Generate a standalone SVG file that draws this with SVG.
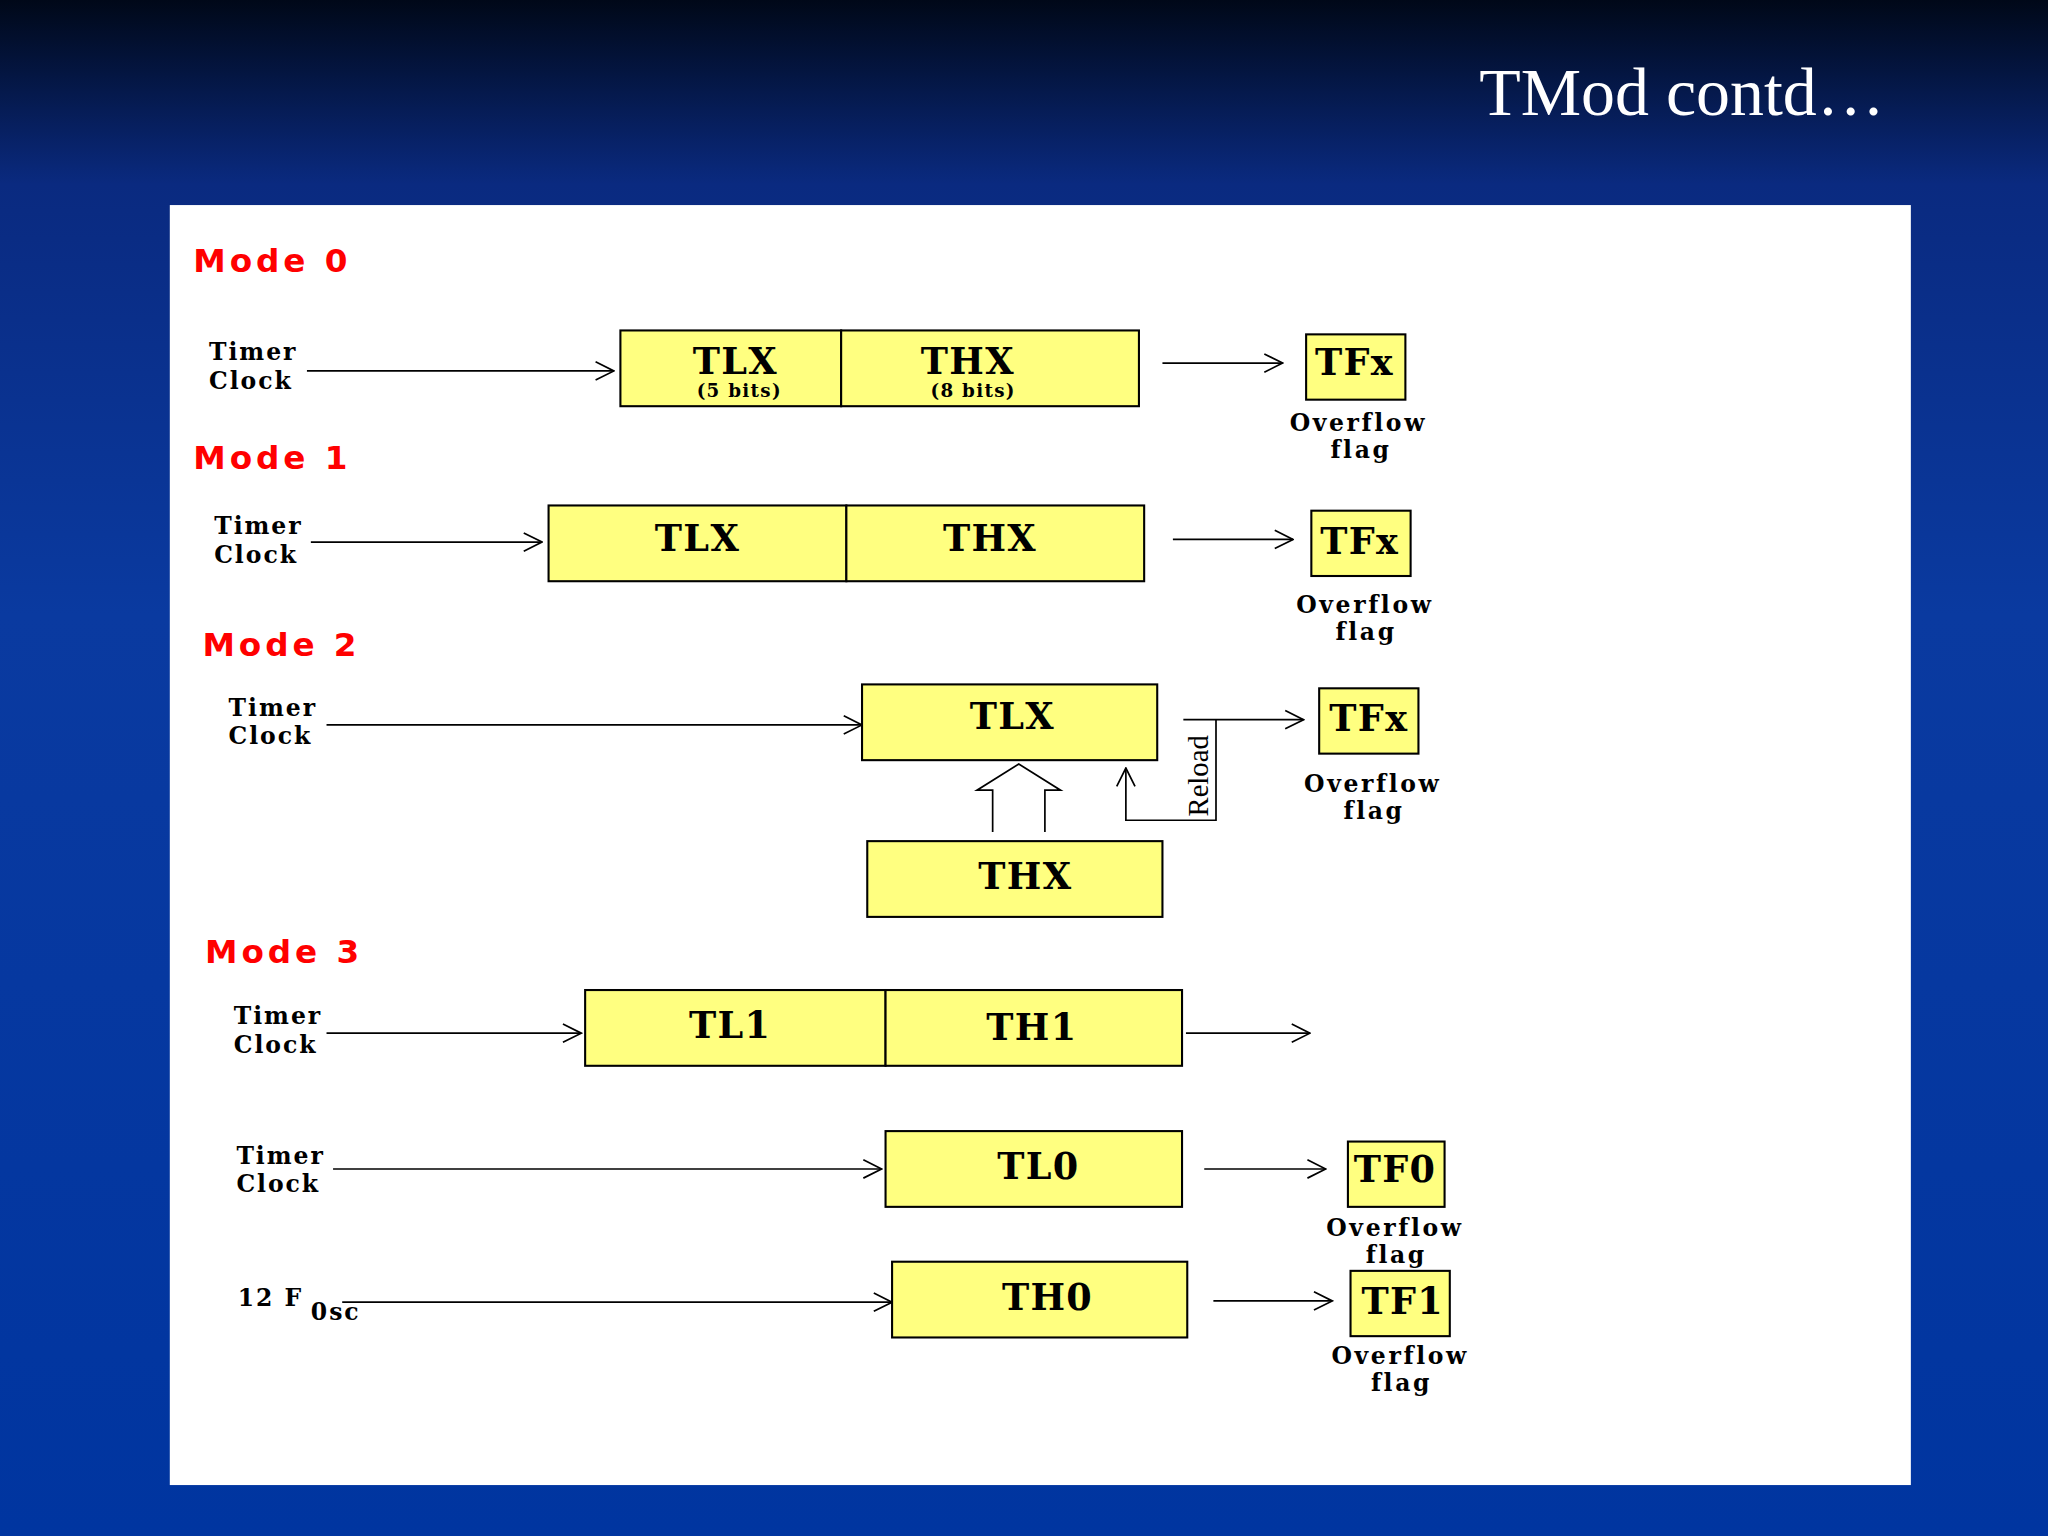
<svg xmlns="http://www.w3.org/2000/svg" width="2048" height="1536" viewBox="0 0 2048 1536">
<defs>
<linearGradient id="bg" x1="0" y1="0" x2="0" y2="1">
<stop offset="0" stop-color="#000818"/><stop offset="0.12" stop-color="#0a2a80"/><stop offset="0.4" stop-color="#0a3aa0"/><stop offset="1" stop-color="#0035a0"/>
</linearGradient>
<marker id="ah" viewBox="0 0 16 16" refX="15" refY="8" markerWidth="16" markerHeight="16" markerUnits="userSpaceOnUse" orient="auto">
<path d="M1,1 L15,8 L1,15" fill="none" stroke="#000" stroke-width="1.3"/>
</marker>
<style>
.box{fill:#ffff80;stroke:#000;stroke-width:1.6}
.bl{font-family:"DejaVu Serif","Liberation Serif",serif;font-weight:bold;fill:#000;text-anchor:middle;letter-spacing:1px}
.big{font-size:28px}
.sm{font-size:14px}
.lab{font-family:"DejaVu Serif","Liberation Serif",serif;font-weight:bold;font-size:18px;fill:#000;letter-spacing:1.5px}
.ov{font-family:"DejaVu Serif","Liberation Serif",serif;font-weight:bold;font-size:18px;fill:#000;text-anchor:middle;letter-spacing:2px}
.mode{font-family:"DejaVu Sans","Liberation Sans",sans-serif;font-weight:bold;font-size:25px;fill:#f00;letter-spacing:3px}
.ln{stroke:#000;stroke-width:1.3;fill:none}
</style>
</defs>
<rect width="2048" height="1536" fill="url(#bg)"/>
<g transform="scale(1.30612)">
<text x="1443" y="88" font-family="Liberation Serif,serif" font-size="52" fill="#fff" text-anchor="end">TMod contd…</text>
<rect x="130" y="157" width="1333" height="980" fill="#fff"/>

<text class="mode" x="148" y="208">Mode 0</text>
<text class="mode" x="148" y="359">Mode 1</text>
<text class="mode" x="155" y="502">Mode 2</text>
<text class="mode" x="157" y="737">Mode 3</text>

<g id="clk0"><text class="lab" x="160" y="276">Timer</text><text class="lab" x="160" y="298">Clock</text></g>
<g id="clk1"><text class="lab" x="164" y="409">Timer</text><text class="lab" x="164" y="431">Clock</text></g>
<g id="clk2"><text class="lab" x="175" y="548">Timer</text><text class="lab" x="175" y="570">Clock</text></g>
<g id="clk3a"><text class="lab" x="179" y="784">Timer</text><text class="lab" x="179" y="806">Clock</text></g>
<g id="clk3b"><text class="lab" x="181" y="891">Timer</text><text class="lab" x="181" y="913">Clock</text></g>
<g id="osc"><text class="lab" x="182" y="1000" font-size="20">12 F</text><text class="lab" x="238" y="1011" font-size="14">0sc</text></g>

<g id="m0-tlx"><rect class="box" x="475" y="253" width="169" height="58"/><text class="bl big" x="563" y="286">TLX</text><text class="bl sm" x="566" y="304">(5 bits)</text></g>
<g id="m0-thx"><rect class="box" x="644" y="253" width="228" height="58"/><text class="bl big" x="741" y="286">THX</text><text class="bl sm" x="745" y="304">(8 bits)</text></g>
<g id="m0-tf"><rect class="box" x="1000" y="256" width="76" height="50"/><text class="bl big" x="1037" y="287">TFx</text><text class="ov" x="1040" y="330">Overflow</text><text class="ov" x="1042" y="351">flag</text></g>

<g id="m1-tlx"><rect class="box" x="420" y="387" width="228" height="58"/><text class="bl big" x="534" y="422">TLX</text></g>
<g id="m1-thx"><rect class="box" x="648" y="387" width="228" height="58"/><text class="bl big" x="758" y="422">THX</text></g>
<g id="m1-tf"><rect class="box" x="1004" y="391" width="76" height="50"/><text class="bl big" x="1041" y="424">TFx</text><text class="ov" x="1045" y="469">Overflow</text><text class="ov" x="1046" y="490">flag</text></g>

<g id="m2-tlx"><rect class="box" x="660" y="524" width="226" height="58"/><text class="bl big" x="775" y="558">TLX</text></g>
<g id="m2-thx"><rect class="box" x="664" y="644" width="226" height="58"/><text class="bl big" x="785" y="681">THX</text></g>
<g id="m2-tf"><rect class="box" x="1010" y="527" width="76" height="50"/><text class="bl big" x="1048" y="560">TFx</text><text class="ov" x="1051" y="606">Overflow</text><text class="ov" x="1052" y="627">flag</text></g>

<g id="m3-tl1"><rect class="box" x="448" y="758" width="230" height="58"/><text class="bl big" x="559" y="795">TL1</text></g>
<g id="m3-th1"><rect class="box" x="678" y="758" width="227" height="58"/><text class="bl big" x="790" y="796">TH1</text></g>
<g id="m3-tl0"><rect class="box" x="678" y="866" width="227" height="58"/><text class="bl big" x="795" y="903">TL0</text></g>
<g id="m3-tf0"><rect class="box" x="1032" y="874" width="74" height="50"/><text class="bl big" x="1068" y="905">TF0</text><text class="ov" x="1068" y="946">Overflow</text><text class="ov" x="1069" y="967">flag</text></g>
<g id="m3-th0"><rect class="box" x="683" y="966" width="226" height="58"/><text class="bl big" x="802" y="1003">TH0</text></g>
<g id="m3-tf1"><rect class="box" x="1034" y="973" width="76" height="50"/><text class="bl big" x="1074" y="1006">TF1</text><text class="ov" x="1072" y="1044">Overflow</text><text class="ov" x="1073" y="1065">flag</text></g>

<g id="connectors">
<line class="ln" x1="235" y1="284" x2="470" y2="284" marker-end="url(#ah)"/>
<line class="ln" x1="890" y1="278" x2="982" y2="278" marker-end="url(#ah)"/>
<line class="ln" x1="238" y1="415" x2="415" y2="415" marker-end="url(#ah)"/>
<line class="ln" x1="898" y1="413" x2="990" y2="413" marker-end="url(#ah)"/>
<line class="ln" x1="250" y1="555" x2="660" y2="555" marker-end="url(#ah)"/>
<polyline class="ln" points="906,551 998,551" marker-end="url(#ah)"/>
<polyline class="ln" points="931,551 931,628 862,628 862,588" marker-end="url(#ah)"/>
<path class="ln" d="M760,637 L760,605 L748,605 L780,585 L812,605 L800,605 L800,637" stroke-width="1.6"/>
<line class="ln" x1="250" y1="791" x2="445" y2="791" marker-end="url(#ah)"/>
<line class="ln" x1="908" y1="791" x2="1003" y2="791" marker-end="url(#ah)"/>
<line class="ln" x1="255" y1="895" x2="675" y2="895" marker-end="url(#ah)"/>
<line class="ln" x1="922" y1="895" x2="1015" y2="895" marker-end="url(#ah)"/>
<line class="ln" x1="262" y1="997" x2="683" y2="997" marker-end="url(#ah)"/>
<line class="ln" x1="929" y1="996" x2="1020" y2="996" marker-end="url(#ah)"/>
<text x="925" y="594" transform="rotate(-90 925 594)" font-family="Liberation Serif,serif" font-size="22" text-anchor="middle" fill="#000">Reload</text>
</g>
</g>
</svg>
